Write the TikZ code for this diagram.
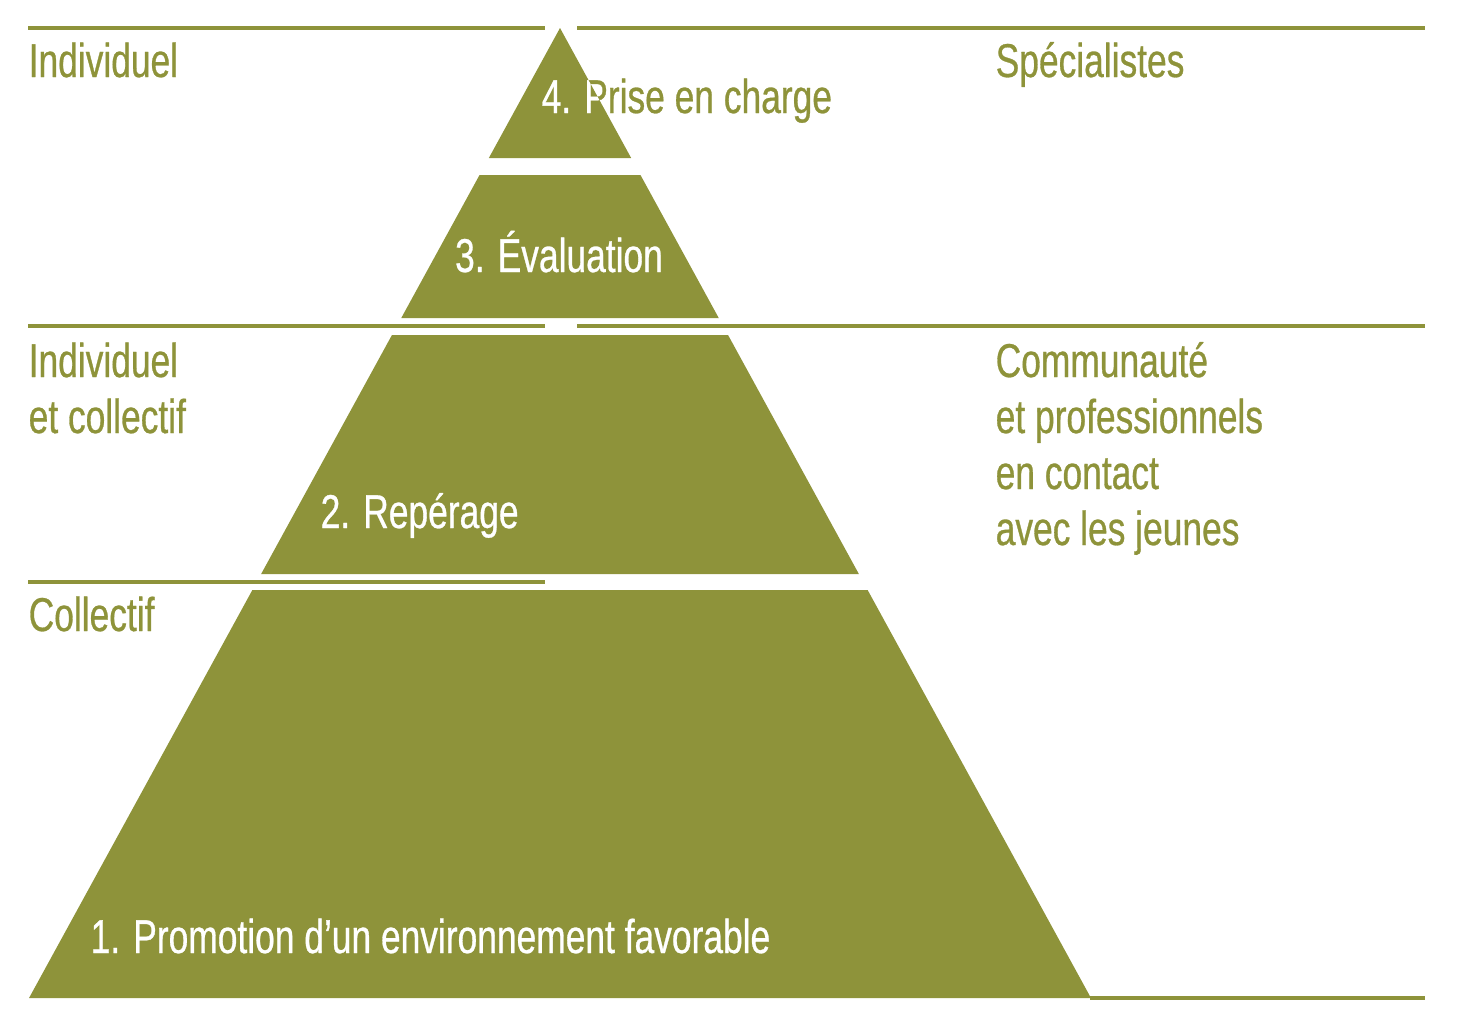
\documentclass[tikz,border=0pt]{standalone}
\usepackage{fontspec}
\setmainfont{Liberation Sans}[FakeStretch=0.745, FakeBold=0.6]
\usepackage{xcolor}
\usepackage{tikz}
\usetikzlibrary{positioning,calc}
\definecolor{pyramid}{RGB}{142,147,58}

\begin{document}
\begin{tikzpicture}[x=0.01cm, y=-0.01cm,
    rule/.style={pyramid, line width=0.04cm},
    label/.style={pyramid, anchor=base west, inner sep=0pt, font=\fontsize{13.5}{16}\selectfont},
    tierlabel/.style={white, inner sep=0pt, font=\fontsize{13.5}{16}\selectfont}]
    \useasboundingbox (0,0) rectangle (1458,1032);

    % Tiers of the pyramid
    \foreach \ytop/\ybot in {28/158, 175/318, 335/574, 590/998} {
        \pgfmathsetmacro\wt{0.5474*(\ytop-28)}
        \pgfmathsetmacro\wb{0.5474*(\ybot-28)}
        \fill[pyramid] (560-\wt,\ytop) -- (560+\wt,\ytop) -- (560+\wb,\ybot) -- (560-\wb,\ybot) -- cycle;
    }

    % Rules
    \draw[rule] (28,28) -- (545,28);
    \draw[rule] (577,28) -- (1425,28);
    \draw[rule] (28,326) -- (545,326);
    \draw[rule] (577,326) -- (1425,326);
    \draw[rule] (28,582) -- (545,582);
    \draw[rule] (1090,998) -- (1425,998);

    % Left labels
    \node[label] (indiv) at (28,77) {Individuel};
    \node[label] (indivcoll) at (28,377) {Individuel};
    \node[label] (indivcoll2) at (28,433) {et collectif};
    \node[label] (coll) at (28,631) {Collectif};

    % Right labels
    \node[label] (spec) at (995,77) {Spécialistes};
    \node[label] (comm) at (995,377) {Communauté};
    \node[label] (comm2) at (995,433) {et professionnels};
    \node[label] (comm3) at (995,489) {en contact};
    \node[label] (comm4) at (995,545) {avec les jeunes};

    % Tier labels
    \node[label] (prise) at (541,113) {4. Prise en charge};
    \begin{scope}
        \clip (560,28) -- (631,158) -- (489,158) -- cycle;
        \node[label, white] (prisew) at (541,113) {4. Prise en charge};
    \end{scope}
    \node[tierlabel, anchor=base] (eval) at (559,272) {3. Évaluation};
    \node[tierlabel, anchor=base west] (rep) at (320,528) {2. Repérage};
    \node[tierlabel, anchor=base west] (promo) at (90,953) {1. Promotion d’un environnement favorable};
\end{tikzpicture}
\end{document}
